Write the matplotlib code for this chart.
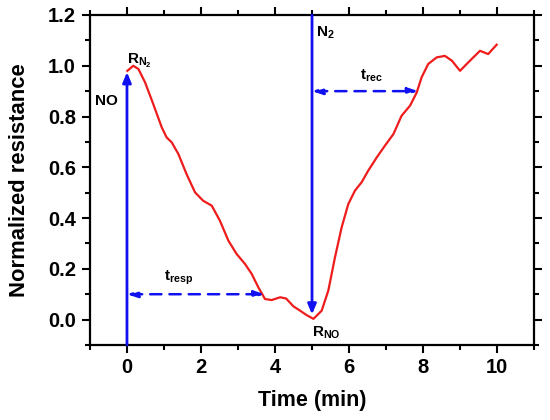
import matplotlib
matplotlib.use('Agg')
import matplotlib.pyplot as plt
from matplotlib.ticker import MultipleLocator, FormatStrFormatter

plt.rcParams['font.family'] = ['Liberation Sans', 'DejaVu Sans']
plt.rcParams['font.weight'] = 'bold'

# normalized resistance
t = [0.01, 0.17, 0.31, 0.49, 0.71, 0.94, 1.07, 1.21, 1.39, 1.61, 1.84, 2.06, 2.29,
     2.51, 2.74, 2.96, 3.19, 3.37, 3.55, 3.73, 3.91, 4.14, 4.3, 4.5, 4.68, 4.85,
     5.04, 5.26, 5.44, 5.62, 5.80, 5.98, 6.16, 6.34, 6.52, 6.75, 6.97, 7.2, 7.42,
     7.65, 7.83, 7.96, 8.14, 8.37, 8.59, 8.78, 9.0, 9.22, 9.54, 9.76, 9.99]
r = [0.98, 1.0, 0.987, 0.934, 0.849, 0.757, 0.718, 0.698, 0.652, 0.573, 0.501, 0.468, 0.449,
     0.39, 0.311, 0.259, 0.219, 0.18, 0.127, 0.081, 0.077, 0.088, 0.083, 0.052, 0.035, 0.018,
     0.003, 0.035, 0.114, 0.245, 0.363, 0.455, 0.508, 0.541, 0.587, 0.639, 0.685, 0.731, 0.803,
     0.843, 0.895, 0.954, 1.007, 1.033, 1.039, 1.02, 0.98, 1.013, 1.059, 1.046, 1.083]

t_no = 0.0
t_n2 = 5.0
t_resp_end = 3.72
t_rec_end = 7.87

fig = plt.figure(figsize=(5.5, 4.2), dpi=100)
ax = fig.add_axes([0.1636, 0.1786, 0.8074, 0.7857])

ax.plot(t, r, color='#ee1c1c', lw=1.6)

blue = '#1010f0'
head = '-|>,head_length=0.6,head_width=0.25'
dhead = '<|-|>,head_length=0.6,head_width=0.2'
# NO on (arrow up from bottom)
ax.annotate('', xy=(t_no, 0.975), xytext=(t_no, -0.1),
            arrowprops=dict(arrowstyle=head, color=blue, lw=2, shrinkA=0, shrinkB=0))
# N2 on (arrow down from top)
ax.annotate('', xy=(t_n2, 0.02), xytext=(t_n2, 1.2),
            arrowprops=dict(arrowstyle=head, color=blue, lw=2, shrinkA=0, shrinkB=0))
# t_resp / t_rec double arrows
ax.annotate('', xy=(t_resp_end, 0.1), xytext=(t_no, 0.1),
            arrowprops=dict(arrowstyle=dhead, color=blue, lw=1.8,
                            linestyle=(0, (4.5, 3.2)), shrinkA=0, shrinkB=0))
ax.annotate('', xy=(t_rec_end, 0.9), xytext=(t_n2, 0.9),
            arrowprops=dict(arrowstyle=dhead, color=blue, lw=1.8,
                            linestyle=(0, (4.5, 3.2)), shrinkA=0, shrinkB=0))

ax.text(-0.55, 0.86, 'NO', fontsize=11, fontweight='bold', ha='center', va='center')
ax.text(0.0, 1.02, r'R$_{\mathregular{N_2}}$', fontsize=11, fontweight='bold', ha='left', va='center')
ax.text(5.12, 1.13, r'N$_{\mathregular{2}}$', fontsize=11, fontweight='bold', ha='left', va='center')
ax.text(6.3, 0.96, r't$_{\mathregular{rec}}$', fontsize=11, fontweight='bold', ha='left', va='center')
ax.text(1.0, 0.165, r't$_{\mathregular{resp}}$', fontsize=11, fontweight='bold', ha='left', va='center')
ax.text(5.0, -0.05, r'R$_{\mathregular{NO}}$', fontsize=11, fontweight='bold', ha='left', va='center')

ax.set_xlim(-1, 11)
ax.set_ylim(-0.1, 1.2)
ax.xaxis.set_major_locator(MultipleLocator(2))
ax.xaxis.set_minor_locator(MultipleLocator(1))
ax.yaxis.set_major_locator(MultipleLocator(0.2))
ax.yaxis.set_minor_locator(MultipleLocator(0.1))
ax.yaxis.set_major_formatter(FormatStrFormatter('%.1f'))
ax.tick_params(which='both', direction='out', top=True, right=True, width=1.5,
               labelsize=14.5)
ax.tick_params(which='major', length=6)
ax.tick_params(which='minor', length=3.5)
ax.tick_params(axis='y', pad=4)
for lab in ax.get_xticklabels() + ax.get_yticklabels():
    lab.set_fontweight('bold')
for s in ax.spines.values():
    s.set_linewidth(1.6)

ax.set_xlabel('Time (min)', fontsize=15.5, fontweight='bold', labelpad=9)
ax.set_ylabel('Normalized resistance', fontsize=15.8, fontweight='bold', labelpad=13)

fig.savefig('out.png', dpi=100)
